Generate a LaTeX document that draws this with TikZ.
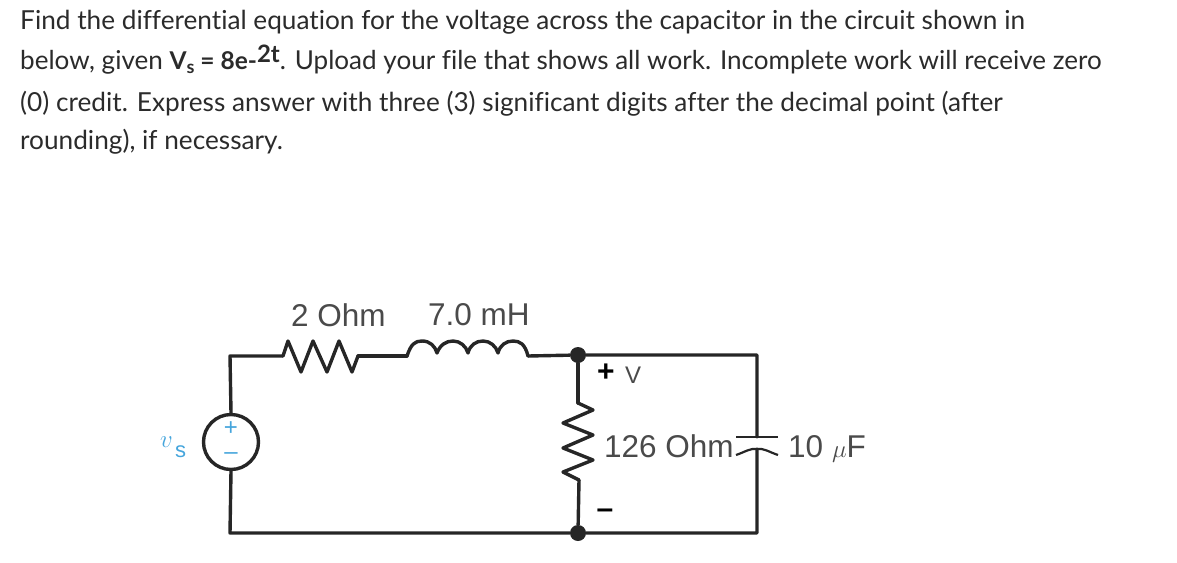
\documentclass[tikz,border=0pt]{standalone}
\usepackage{fontspec}
\setmainfont[Ligatures=NoCommon]{Lato}
\newfontfamily\labfont{Liberation Sans}
\definecolor{ink}{HTML}{2B2B2B}
\definecolor{wirec}{HTML}{262626}
\definecolor{muted}{HTML}{4A4A4A}
\definecolor{srcblue}{HTML}{45A5DC}
\tikzset{
  wire/.style={draw=wirec, line width=3.4pt, line cap=round, line join=round},
  plate/.style={draw=wirec, line width=2.2pt},
  dot/.style={circle, fill=wirec, inner sep=0pt, minimum size=16pt},
  srcring/.style={circle, draw=wirec, line width=3.4pt, fill=white, minimum size=55pt, inner sep=0pt},
  para/.style={anchor=base west, text=ink, inner sep=0pt, font=\fontsize{26.2}{30}\selectfont},
  lab/.style={anchor=base west, text=muted, inner sep=0pt, font=\labfont\fontsize{31.5}{34}\selectfont},
  sign/.style={text=srcblue, inner sep=0pt, font=\labfont\fontsize{24}{24}\selectfont},
  bsign/.style={text=black, inner sep=0pt, font=\labfont\bfseries\fontsize{30}{30}\selectfont},
}
\begin{document}
\begin{tikzpicture}[x=1pt,y=-1pt]
  \useasboundingbox (0,0) rectangle (1177,562);
  % question text
  \node[para] (line1) at (20,29) {Find the differential equation for the voltage across the capacitor in the circuit shown in};
  \node[para] (line2) at (20,69) {\fontsize{26.05}{30}\selectfont below, given \textbf{\fontsize{24.5}{30}\selectfont V\raisebox{-0.2em}{\fontsize{18}{20}\selectfont s} = 8e-\raisebox{0.25em}{\fontsize{24}{25}\selectfont 2t}}. Upload your file that shows all work. Incomplete work will receive zero};
  \node[para] (line3) at (20,111) {(0) credit. Express answer with three (3) significant digits after the decimal point (after};
  \node[para] (line4) at (20,149) {rounding), if necessary.};
  % circuit points
  \coordinate (tl) at (230,356);
  \coordinate (bl) at (230,533);
  \coordinate (ra) at (283,356);
  \coordinate (rb) at (358,356);
  \coordinate (la) at (407,356);
  \coordinate (lb) at (528,356);
  \coordinate (ga) at (578,403);
  \coordinate (gb) at (579,480);
  \coordinate (tr) at (757,355);
  \coordinate (br) at (757,533);
  \coordinate (ca) at (757,437);
  \coordinate (cb) at (757,449);
  \node[dot] (top) at (578,355) {};
  \node[dot] (bot) at (578,533) {};
  \node[srcring] (src) at (231,442) {};
  % wires
  \draw[wire] (src.north) -- (tl) -- (ra);
  \draw[wire] (rb) -- (la);
  \draw[wire] (lb) -- (top) -- (tr) -- (ca);
  \draw[wire] (src.south) -- (bl) -- (bot) -- (br) -- (cb);
  \draw[wire] (top) -- (ga);
  \draw[wire] (gb) -- (bot);
  % series resistor
  \draw[wire] (ra) -- (288,341) -- (301,372) -- (313,341) -- (327,372) -- (339,341) -- (352,372) -- (rb);
  % inductor
  \draw[wire] (la) .. controls (411,344) and (415,341) .. (422,341)
    .. controls (430,341) and (435,346) .. (437,353)
    .. controls (440,345) and (446,341) .. (453,341)
    .. controls (460,341) and (466,346) .. (468,353)
    .. controls (470,345) and (476,341) .. (483,341)
    .. controls (490,341) and (496,346) .. (498,353)
    .. controls (500,345) and (506,341) .. (513,341)
    .. controls (520,341) and (525,344) .. (lb);
  % shunt resistor
  \draw[wire] (ga) -- (593,410) -- (563,423) -- (593,435) -- (563,448) -- (593,460) -- (563,472) -- (gb);
  % capacitor
  \draw[plate] (736,437) -- (778,437);
  \draw[plate] (736,455) .. controls (745,452) and (750,448) .. (cb) .. controls (764,448) and (769,452) .. (778,455);
  % labels
  \node[lab] (rlab) at (291,326) {2 Ohm};
  \node[lab] (llab) at (428,325) {7.0 mH};
  \node[lab] (glab) at (604,457) {126 Ohm};
  \node[lab] (clab) at (788,457) {10 $\mu$F};
  \node[sign] (plus) at (231,429) {+};
  \node[sign] (minus) at (231,456) {\textendash};
  \node[anchor=base west, text=srcblue, inner sep=0pt, font=\fontsize{28}{28}\selectfont] (vs) at (160,447) {$v$};
  \node[anchor=base west, text=srcblue, inner sep=0pt, font=\labfont\fontsize{22}{22}\selectfont] (vss) at (175,457) {s};
  \node[bsign] (vplus) at (606,373) {+};
  \node[anchor=base west, text=muted, inner sep=0pt, font=\labfont\fontsize{24}{24}\selectfont] (vlab) at (625,383) {V};
  \node[bsign] (vminus) at (605,514) {\textendash};
\end{tikzpicture}
\end{document}
